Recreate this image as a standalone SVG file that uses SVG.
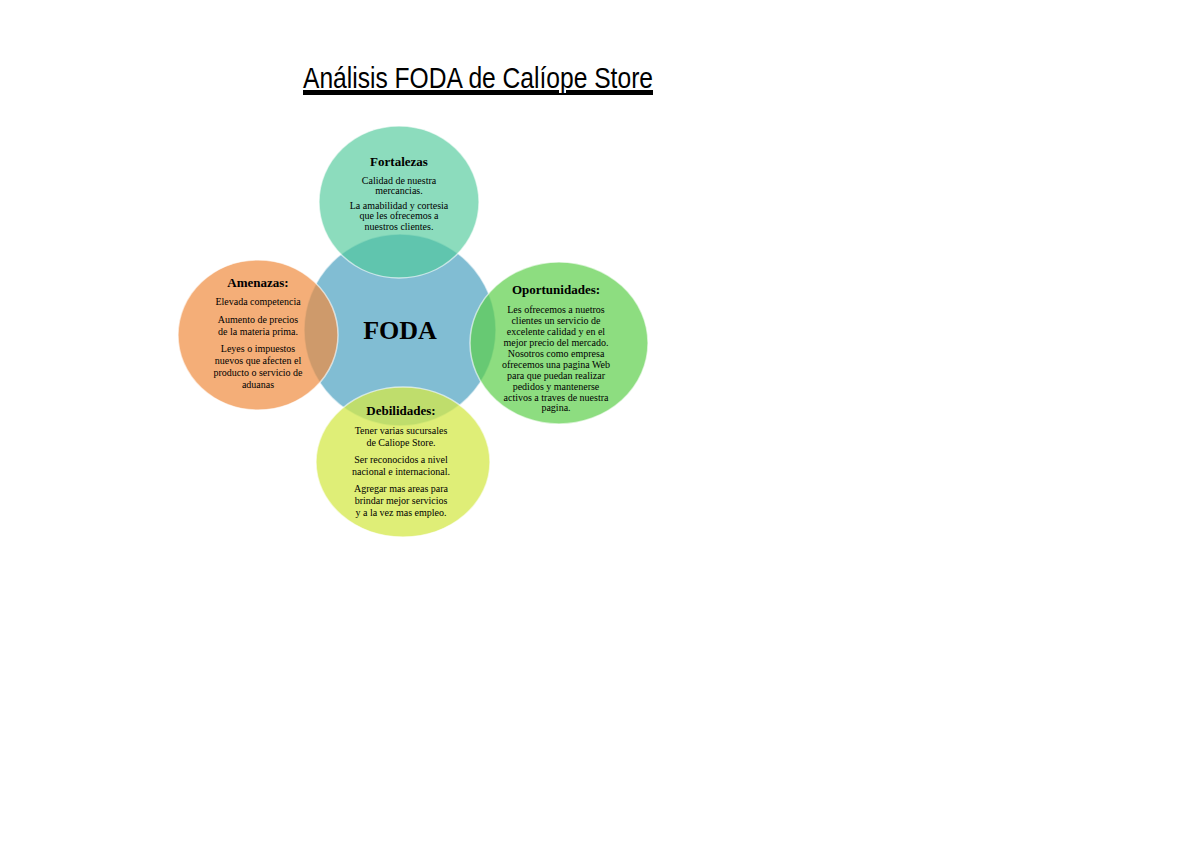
<svg xmlns="http://www.w3.org/2000/svg" width="1200" height="849" viewBox="0 0 1200 849">
<style>
.t{font-family:"Liberation Serif","DejaVu Serif",serif;fill:#000;text-anchor:middle}
.h{font-weight:bold;font-size:13px}
.b{font-size:10px}
.c{stroke:#ffffff;stroke-opacity:.6;stroke-width:1.5}
</style>
<rect width="1200" height="849" fill="#fff"/>
<text x="478" y="88" font-family="'Liberation Sans Narrow','Liberation Sans',sans-serif" font-size="30" text-anchor="middle" textLength="350" lengthAdjust="spacingAndGlyphs" text-decoration="underline">Análisis FODA de Calíope Store</text>
<line x1="303" y1="94" x2="653" y2="94" stroke="#000" stroke-width="2"/>
<g id="foda"><circle class="c" cx="400" cy="330" r="96" fill="#6bb2cb" fill-opacity=".85"/>
<text class="t" x="400" y="339" font-size="26" font-weight="bold">FODA</text></g>
<g id="fortalezas"><ellipse class="c" cx="399" cy="202" rx="80" ry="76" fill="#4fc99a" fill-opacity=".65"/>
<text class="t h" x="399" y="166">Fortalezas</text>
<text class="t b" x="399" y="184">Calidad de nuestra</text>
<text class="t b" x="399" y="194">mercancias.</text>
<text class="t b" x="399" y="209">La amabilidad y cortesia</text>
<text class="t b" x="399" y="219">que les ofrecemos a</text>
<text class="t b" x="399" y="230">nuestros clientes.</text></g>
<g id="amenazas"><ellipse class="c" cx="258" cy="335" rx="80" ry="75" fill="#f08c3e" fill-opacity=".7"/>
<text class="t h" x="258" y="287">Amenazas:</text>
<text class="t b" x="258" y="305">Elevada competencia</text>
<text class="t b" x="258" y="323">Aumento de precios</text>
<text class="t b" x="258" y="335">de la materia prima.</text>
<text class="t b" x="258" y="352">Leyes o impuestos</text>
<text class="t b" x="258" y="364">nuevos que afecten el</text>
<text class="t b" x="258" y="376">producto o servicio de</text>
<text class="t b" x="258" y="388">aduanas</text></g>
<g id="oportunidades"><ellipse class="c" cx="559" cy="343" rx="89" ry="81" fill="#5cce4a" fill-opacity=".7"/>
<text class="t h" x="556" y="294">Oportunidades:</text>
<text class="t b" font-size="9" x="556" y="313">Les ofrecemos a nuetros</text>
<text class="t b" font-size="9" x="556" y="324">clientes un servicio de</text>
<text class="t b" font-size="9" x="556" y="335">excelente calidad y en el</text>
<text class="t b" font-size="9" x="556" y="346">mejor precio del mercado.</text>
<text class="t b" font-size="9" x="556" y="357">Nosotros como empresa</text>
<text class="t b" font-size="9" x="556" y="368">ofrecemos una pagina Web</text>
<text class="t b" font-size="9" x="556" y="379">para que puedan realizar</text>
<text class="t b" font-size="9" x="556" y="390">pedidos y mantenerse</text>
<text class="t b" font-size="9" x="556" y="401">activos a traves de nuestra</text>
<text class="t b" font-size="9" x="556" y="411">pagina.</text></g>
<g id="debilidades"><ellipse class="c" cx="403" cy="462" rx="87" ry="75" fill="#d4e84a" fill-opacity=".75"/>
<text class="t h" x="401" y="415">Debilidades:</text>
<text class="t b" x="401" y="434">Tener varias sucursales</text>
<text class="t b" x="401" y="446">de Caliope Store.</text>
<text class="t b" x="401" y="463">Ser reconocidos a nivel</text>
<text class="t b" x="401" y="475">nacional e internacional.</text>
<text class="t b" x="401" y="492">Agregar mas areas para</text>
<text class="t b" x="401" y="504">brindar mejor servicios</text>
<text class="t b" x="401" y="516">y a la vez mas empleo.</text></g>
<g id="connectors"/>
</svg>
